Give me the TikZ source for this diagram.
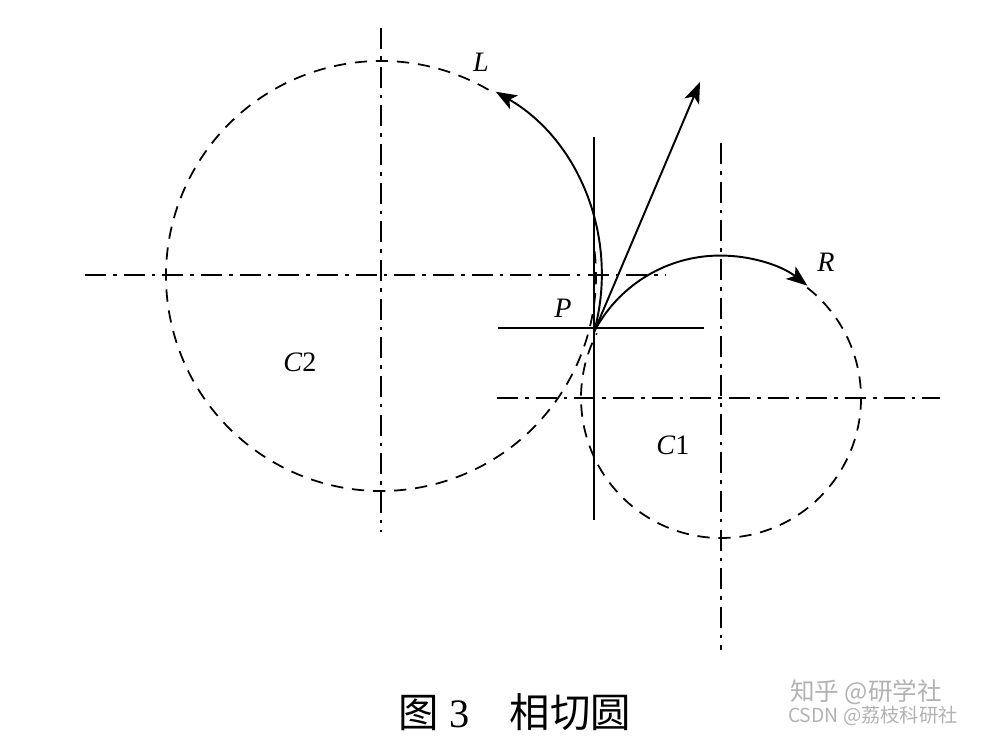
\documentclass[tikz,border=0pt]{standalone}
\usepackage{fontspec}
\setmainfont{Liberation Serif}
\newfontfamily\cjkfont{Noto Sans CJK SC}
\usetikzlibrary{arrows.meta,positioning,calc}

\begin{document}
\begin{tikzpicture}[x=0.02cm,y=0.02cm,>={Stealth[length=12pt,width=9pt,inset=3pt]},
		solid line/.style={line width=1.1pt},
		circle line/.style={line width=1pt,dash pattern=on 7pt off 5pt},
		axis line/.style={line width=0.9pt,dash pattern=on 12pt off 4pt on 2pt off 4pt},
		name node/.style={font=\fontsize{16}{19}\selectfont},
		caption node/.style={font=\fontsize{23}{27}\selectfont},
		mark node/.style={text=black!30,font=\cjkfont\fontsize{14}{16}\selectfont}]
	\useasboundingbox (0,0) rectangle (982,736);
	\coordinate (c2) at (381,460);
	\coordinate (c1) at (721,338);
	\coordinate (P) at (594,404);
	%
	% Centre lines of both circles.
	\draw[axis line] (381,708) -- (381,204);
	\draw[axis line] (85,461) -- (665,461);
	\draw[axis line] (721,593) -- (721,86);
	\draw[axis line] (497,338) -- (940,338);
	%
	% The two circles, left open where the paths run.
	\draw[circle line] ($(c2)+(60:215)$) arc[start angle=60,end angle=368,radius=215];
	\draw[circle line] ($(c1)+(52:140)$) arc[start angle=52,end angle=-207.5,radius=140];
	%
	% Lines through P.
	\draw[solid line] (594,599) -- (594,216);
	\draw[solid line] (498,408) -- (704,408);
	%
	% Turning left, turning right and going straight.
	\draw[solid line,->] (P) arc[start angle=-15.5,end angle=60,radius=212];
	\draw[solid line,->] (P) arc[start angle=152.5,end angle=52,radius=142];
	\coordinate (ahead) at (700,654);
	\draw[solid line,->] (P) -- (ahead);
	%
	% Labels.
	\node[name node] (lbl L) at (481,674) {\textit{L}};
	\node[name node] (lbl R) at (826,474) {\textit{R}};
	\node[name node] (lbl P) at (563,428) {\textit{P}};
	\node[name node] (lbl C2) at (300,374) {\textit{C}2};
	\node[name node] (lbl C1) at (673,291) {\textit{C}1};
	\node[caption node] (caption) at (515,24) {{\cjkfont 图} 3\quad{\cjkfont 相切圆}};
	\node[mark node] (mark1) at (866,44) {知乎 @研学社};
	\node[mark node,font=\cjkfont\fontsize{11}{13}\selectfont] (mark2) at (873,20) {CSDN @荔枝科研社};
\end{tikzpicture}
\end{document}
